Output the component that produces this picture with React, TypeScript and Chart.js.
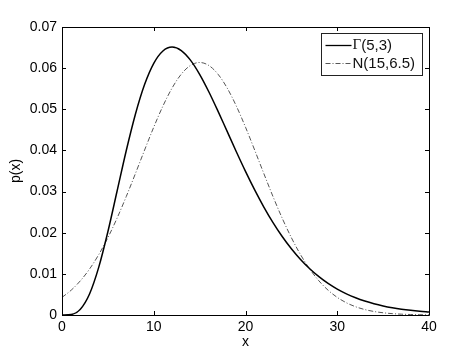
import React, { useEffect, useRef } from "react";
import { Chart, registerables } from "chart.js";

Chart.register(...registerables);

const xValues = [
  0, 1, 2, 3, 4, 5, 6, 7, 8, 9, 10, 11, 12, 13, 14, 15, 16, 17, 18, 19, 20,
  21, 22, 23, 24, 25, 26, 27, 28, 29, 30, 31, 32, 33, 34, 35, 36, 37, 38, 39, 40,
];

const gammaValues = [
  0, 0.000123, 0.001409, 0.005109, 0.011571, 0.020242, 0.030074, 0.039923,
  0.0488, 0.05601, 0.061169, 0.06417, 0.065122, 0.064272, 0.061943, 0.058489,
  0.054253, 0.049542, 0.044618, 0.039689, 0.034914, 0.030409, 0.026245,
  0.022465, 0.019084, 0.0161, 0.013495, 0.011246, 0.00932, 0.007684, 0.006306,
  0.005151, 0.004191, 0.003396, 0.002742, 0.002206, 0.00177, 0.001415,
  0.001128, 0.000897, 0.000711,
];

const normalValues = [
  0.004282, 0.006034, 0.008306, 0.011167, 0.014659, 0.018794, 0.023532,
  0.028779, 0.034368, 0.040084, 0.045655, 0.050788, 0.055174, 0.058537,
  0.060653, 0.061375, 0.060653, 0.058537, 0.055174, 0.050788, 0.045655,
  0.040084, 0.034368, 0.028779, 0.023532, 0.018794, 0.014659, 0.011167,
  0.008306, 0.006034, 0.004282, 0.002967, 0.002008, 0.001327, 0.000856,
  0.00054, 0.000332, 0.0002, 0.000117, 0.0000673, 0.0000376,
];

const xTickValues = [0, 10, 20, 30, 40];
const xTickLabels = ["0", "10", "20", "30", "40"];
const yTickValues = [0, 0.01, 0.02, 0.03, 0.04, 0.05, 0.06, 0.07];
const yTickLabels = ["0", "0.01", "0.02", "0.03", "0.04", "0.05", "0.06", "0.07"];
const legendGreek = "Γ";
const legendLabels = ["(5,3)", "N(15,6.5)"];
const xTitle = "x";
const yTitle = "p(x)";

const SANS = "'Liberation Sans', Arial, Helvetica, sans-serif";
const SERIF = "'Liberation Serif', 'Times New Roman', serif";

export default function App() {
  const ref = useRef<HTMLCanvasElement | null>(null);

  useEffect(() => {
    const canvas = ref.current;
    if (!canvas) return;

    const framePlugin = {
      id: "frame",
      afterDraw(chart: any) {
        const ctx = chart.ctx as CanvasRenderingContext2D;
        const { left, right, top, bottom } = chart.chartArea;
        const xs = chart.scales.x;
        const ys = chart.scales.y;
        ctx.save();
        ctx.strokeStyle = "#000";
        ctx.lineWidth = 1;
        ctx.beginPath();
        ctx.rect(Math.round(left) + 0.5, Math.round(top) + 0.5, Math.round(right - left), Math.round(bottom - top));
        ctx.stroke();
        const tl = 4;
        ctx.beginPath();
        xTickValues.forEach((v) => {
          const px = Math.round(xs.getPixelForValue(v)) + 0.5;
          ctx.moveTo(px, bottom);
          ctx.lineTo(px, bottom - tl);
          ctx.moveTo(px, top);
          ctx.lineTo(px, top + tl);
        });
        yTickValues.forEach((v) => {
          const py = Math.round(ys.getPixelForValue(v)) + 0.5;
          ctx.moveTo(left, py);
          ctx.lineTo(left + tl, py);
          ctx.moveTo(right, py);
          ctx.lineTo(right - tl, py);
        });
        ctx.stroke();

        // legend
        const bw = 101;
        const bh = 42;
        const bx = Math.round(right - 7 - bw) + 0.5;
        const by = Math.round(top + 6) + 0.5;
        ctx.fillStyle = "#fff";
        ctx.fillRect(bx, by, bw, bh);
        ctx.strokeStyle = "#222";
        ctx.strokeRect(bx, by, bw, bh);

        const row1 = by + 12;
        const row2 = by + 30;
        const lx0 = bx + 4;
        const lx1 = bx + 30;
        ctx.strokeStyle = "#000";
        ctx.lineWidth = 1.3;
        ctx.setLineDash([]);
        ctx.beginPath();
        ctx.moveTo(lx0, row1);
        ctx.lineTo(lx1, row1);
        ctx.stroke();
        ctx.strokeStyle = "#555";
        ctx.lineWidth = 1;
        ctx.setLineDash([5, 2, 1, 2]);
        ctx.beginPath();
        ctx.moveTo(lx0, row2);
        ctx.lineTo(lx1, row2);
        ctx.stroke();
        ctx.setLineDash([]);

        ctx.fillStyle = "#111";
        ctx.textBaseline = "middle";
        ctx.textAlign = "left";
        const tx = bx + 31;
        ctx.font = `15px ${SERIF}`;
        ctx.fillText(legendGreek, tx, row1);
        const gw = ctx.measureText(legendGreek).width;
        ctx.font = `15px ${SANS}`;
        ctx.fillText(legendLabels[0], tx + gw, row1);
        ctx.fillText(legendLabels[1], tx, row2);
        ctx.restore();
      },
    };

    const chart = new Chart(canvas, {
      type: "line",
      data: {
        datasets: [
          {
            label: "gamma",
            data: xValues.map((x, i) => ({ x, y: gammaValues[i] })),
            borderColor: "#000",
            borderWidth: 1.5,
            pointRadius: 0,
            fill: false,
            cubicInterpolationMode: "monotone",
          },
          {
            label: "normal",
            data: xValues.map((x, i) => ({ x, y: normalValues[i] })),
            borderColor: "#555",
            borderWidth: 1,
            borderDash: [5, 2, 1, 2],
            pointRadius: 0,
            fill: false,
            cubicInterpolationMode: "monotone",
          },
        ],
      },
      options: {
        animation: false,
        responsive: false,
        devicePixelRatio: 1,
        layout: { padding: { top: 27, right: 45, left: 0, bottom: 0 } },
        plugins: {
          legend: { display: false },
          tooltip: { enabled: false },
        },
        scales: {
          x: {
            type: "linear",
            min: 0,
            max: 40,
            grid: { display: false, drawTicks: false },
            border: { display: false },
            afterBuildTicks: (s: any) => {
              s.ticks = xTickValues.map((v) => ({ value: v }));
            },
            afterFit: (s: any) => {
              s.height = 40;
            },
            ticks: {
              padding: 4,
              color: "#000",
              font: { size: 14, family: SANS },
              maxRotation: 0,
              callback: (_v: any, i: number) => xTickLabels[i],
            },
            title: {
              display: true,
              text: xTitle,
              color: "#000",
              font: { size: 14, family: SANS },
              padding: { top: 0, bottom: 4 },
            },
          },
          y: {
            type: "linear",
            min: 0,
            max: 0.07,
            grid: { display: false, drawTicks: false },
            border: { display: false },
            afterBuildTicks: (s: any) => {
              s.ticks = yTickValues.map((v) => ({ value: v }));
            },
            afterFit: (s: any) => {
              s.width = 62;
            },
            ticks: {
              padding: 5,
              color: "#000",
              font: { size: 14, family: SANS },
              callback: (_v: any, i: number) => yTickLabels[i],
            },
            title: {
              display: true,
              text: yTitle,
              color: "#000",
              font: { size: 14, family: SANS },
              padding: { top: 8, bottom: 0 },
            },
          },
        },
      },
      plugins: [framePlugin],
    } as any);

    return () => chart.destroy();
  }, []);

  return (
    <div style={{ position: "absolute", left: 0, top: 0, width: 474, height: 355, background: "#fff" }}>
      <canvas ref={ref} width={474} height={355} style={{ display: "block" }} />
    </div>
  );
}
